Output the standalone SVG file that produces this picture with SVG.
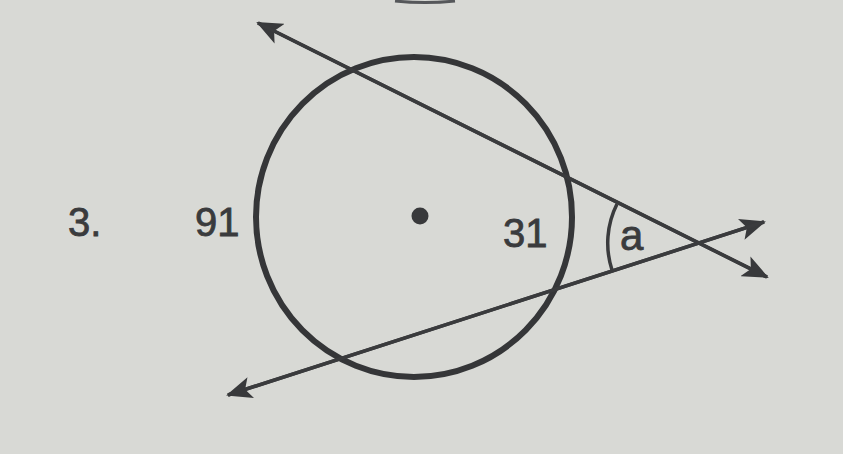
<svg xmlns="http://www.w3.org/2000/svg" width="843" height="454" viewBox="0 0 843 454">
<defs>
<style>
.ln{stroke:#3a3b3d;stroke-width:3.5;fill:none}
.tx{font-family:"Liberation Sans",Arial,sans-serif;fill:#3a3b3d;stroke:#3a3b3d;stroke-width:0.8}
</style>
<marker id="ah" viewBox="0 0 26 22" refX="24" refY="11" markerWidth="26" markerHeight="22" markerUnits="userSpaceOnUse" orient="auto">
<path d="M0,0 L26,11 L0,22 L6,11 Z" fill="#38393b"/>
</marker>
</defs>
<rect width="843" height="454" fill="#d8d9d5"/>
<path d="M395,1 Q425,4 455,1" stroke="#55575a" stroke-width="3" fill="none"/>
<g id="circle">
<ellipse cx="414" cy="217" rx="158" ry="160" fill="none" stroke="#353638" stroke-width="6"/>
<circle cx="420" cy="216" r="8.5" fill="#38393b"/>
</g>
<g id="connectors">
<line class="ln" x1="767" y1="277" x2="258" y2="23" marker-end="url(#ah)"/>
<line class="ln" x1="258" y1="23" x2="767" y2="277" marker-end="url(#ah)"/>
<line class="ln" x1="228" y1="395" x2="764" y2="222" marker-end="url(#ah)"/>
<line class="ln" x1="764" y1="222" x2="228" y2="395" marker-end="url(#ah)"/>
<path class="ln" d="M617,204 A87,87 0 0 0 612,270" stroke-width="2"/>
</g>
<g id="labels">
<text class="tx" x="68" y="236" font-size="40">3.</text>
<text class="tx" x="195" y="236" font-size="40">91</text>
<text class="tx" x="503" y="247" font-size="40">31</text>
<text class="tx" x="620" y="250" font-size="42">a</text>
</g>
</svg>
